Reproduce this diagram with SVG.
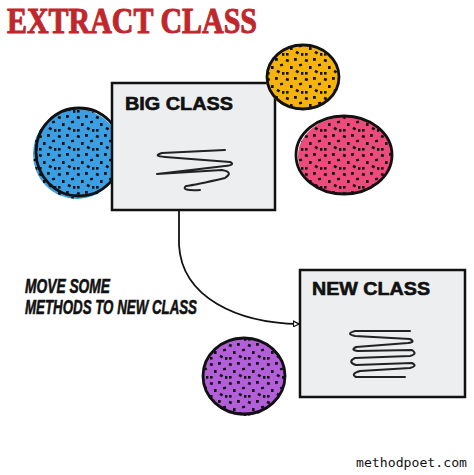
<svg xmlns="http://www.w3.org/2000/svg" width="474" height="475" viewBox="0 0 474 475">
<style>
.box{fill:#eceef0;stroke:#111;stroke-width:2.5}
.ring{fill:none;stroke:#111;stroke-width:2.8}
.lbl{font-family:"Liberation Sans",Arial,sans-serif;font-weight:bold;fill:#111;stroke:#111;stroke-width:0.6}
.scr{fill:none;stroke:#222;stroke-width:2;stroke-linecap:round;stroke-linejoin:round}
.conn{fill:none;stroke:#111;stroke-width:1.8}
.d{fill:#111}
</style>
<defs>
<pattern id="dots" patternUnits="userSpaceOnUse" width="19" height="19">
<rect class="d" x="1" y="2" width="3" height="2.6" transform="rotate(20 2 3)"/>
<rect class="d" x="9" y="1" width="2.8" height="2.8"/>
<rect class="d" x="14" y="7" width="3" height="2.4" transform="rotate(-15 15 8)"/>
<rect class="d" x="5" y="9" width="2.6" height="3"/>
<rect class="d" x="11" y="13" width="3" height="2.6" transform="rotate(30 12 14)"/>
<rect class="d" x="1" y="15" width="2.6" height="2.6"/>
<rect class="d" x="16" y="15" width="2.4" height="2.8"/>
</pattern>
<marker id="arr" viewBox="0 0 10 10" refX="9" refY="5" markerWidth="7" markerHeight="7" orient="auto" markerUnits="userSpaceOnUse">
<path d="M1,1 L9,5 L1,9 Z" fill="#fff" stroke="#111" stroke-width="1.8"/>
</marker>
</defs>

<text x="7" y="33" font-family="'Liberation Serif','Times New Roman',serif" font-weight="900" font-size="35" fill="#c0272d" stroke="#c0272d" stroke-width="1" textLength="250" lengthAdjust="spacingAndGlyphs">EXTRACT CLASS</text>

<g id="blue-circle">
<ellipse cx="77" cy="154" rx="44" ry="45" fill="#3d9fe3"/>
<ellipse cx="77" cy="154" rx="44" ry="45" fill="url(#dots)"/>
<ellipse cx="79" cy="152" rx="43" ry="44" class="ring"/>
</g>

<g id="connectors">
<path class="conn" d="M179,210 L179,245 C182,298 238,323 299,324" marker-end="url(#arr)"/>
</g>

<g id="big-class">
<rect class="box" x="112" y="83" width="163" height="127"/>
<text class="lbl" x="125" y="110" font-size="18" textLength="108" lengthAdjust="spacingAndGlyphs">BIG CLASS</text>
<path class="scr" d="M225,150 L162,153 Q152,156 165,157 L230,162 Q236,165 225,166 L157,174 L222,170 Q234,172 225,178 Q195,185 186,186 Q180,191 200,190"/>
</g>

<g id="yellow-circle">
<ellipse cx="302" cy="78" rx="36" ry="32" fill="#f5b30f"/>
<ellipse cx="302" cy="78" rx="36" ry="32" fill="url(#dots)"/>
<ellipse cx="303" cy="77" rx="36" ry="32" class="ring"/>
</g>

<g id="pink-circle">
<ellipse cx="345" cy="156" rx="47" ry="39" fill="#ec4b7c"/>
<ellipse cx="345" cy="156" rx="47" ry="39" fill="url(#dots)"/>
<ellipse cx="344" cy="155" rx="48" ry="39" class="ring"/>
</g>

<g id="move-label">
<text class="lbl" font-style="italic" x="25" y="293" font-size="20" textLength="85" lengthAdjust="spacingAndGlyphs">MOVE SOME</text>
<text class="lbl" font-style="italic" x="25" y="314" font-size="20" textLength="172" lengthAdjust="spacingAndGlyphs">METHODS TO NEW CLASS</text>
</g>

<g id="new-class">
<rect class="box" x="300" y="270" width="165" height="127"/>
<text class="lbl" x="312" y="295" font-size="18" textLength="118" lengthAdjust="spacingAndGlyphs">NEW CLASS</text>
<path class="scr" d="M410,331 L355,331 Q345,334 355,336 L410,339 Q416,342 408,343 L356,347 Q350,350 358,351 L412,350 Q418,354 410,356 L355,358 Q347,362 356,365 L412,363 Q418,366 410,368 L360,371 Q350,374 356,377 L405,377"/>
</g>

<g id="purple-circle">
<ellipse cx="244" cy="377" rx="41" ry="39" fill="#b35fd9"/>
<ellipse cx="244" cy="377" rx="41" ry="39" fill="url(#dots)"/>
<ellipse cx="244" cy="376" rx="41" ry="38" class="ring"/>
</g>

<text x="356" y="467" font-family="'DejaVu Sans Mono',monospace" font-size="13" fill="#111" textLength="111" lengthAdjust="spacingAndGlyphs">methodpoet.com</text>
</svg>
